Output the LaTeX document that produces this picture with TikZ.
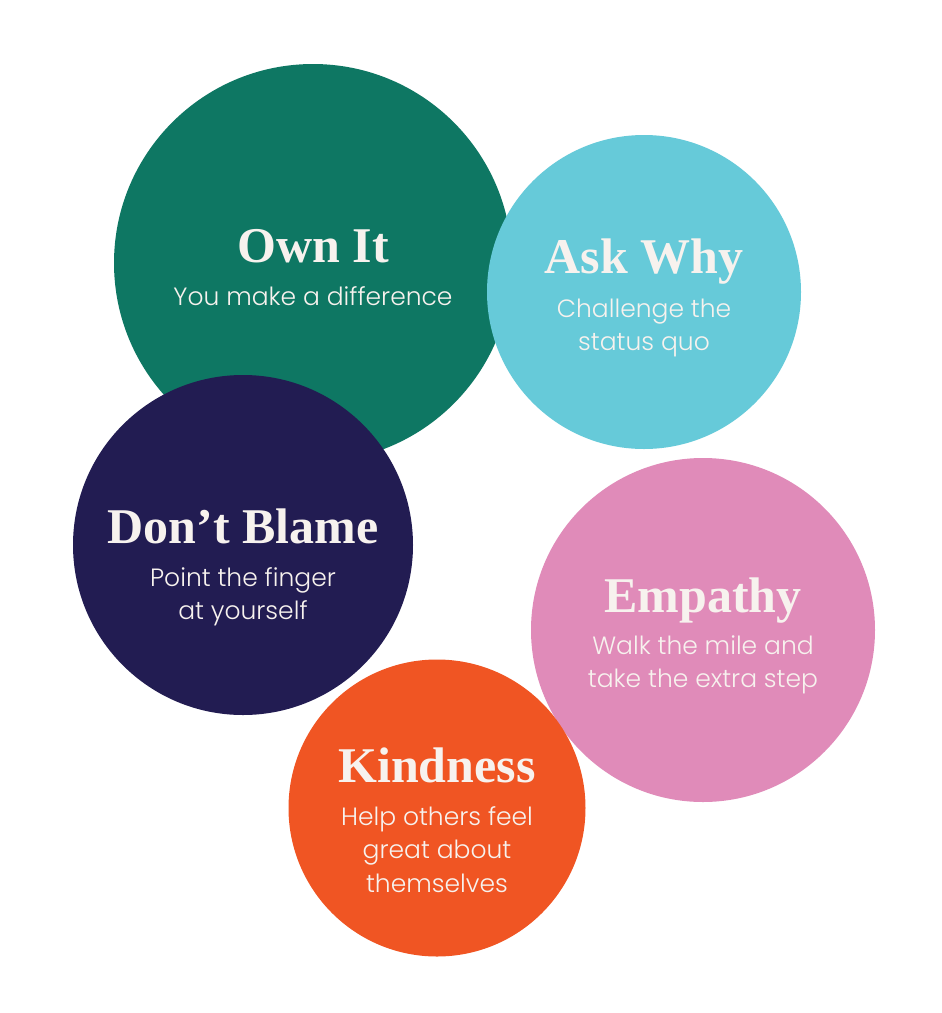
\documentclass[tikz,border=0pt]{standalone}
\usepackage{fontspec}
\usetikzlibrary{positioning}
\newfontfamily\headfont{Liberation Serif}
\IfFontExistsTF{Poppins Light}{\newfontfamily\tagfont{Poppins Light}}{\newfontfamily\tagfont{Poppins}}
\definecolor{owngreen}{HTML}{0E7763}
\definecolor{askcyan}{HTML}{66CAD9}
\definecolor{blamenavy}{HTML}{221C52}
\definecolor{empink}{HTML}{E08BB9}
\definecolor{kindorange}{HTML}{F05523}
\definecolor{cream}{HTML}{F7F2EE}
\begin{document}
\begin{tikzpicture}[x=1pt,y=-1pt,
  bubble/.style={circle,inner sep=0pt,draw=none},
  headline/.style={text=cream,inner sep=0pt,anchor=base,font=\headfont\bfseries\fontsize{50}{50}\selectfont},
  tagline/.style={text=cream,inner sep=0pt,anchor=base,align=center,font=\tagfont\fontsize{25}{33.5}\selectfont}]
  \useasboundingbox[fill=white] (0,0) rectangle (942,1013);
  % circles
  \node[bubble,fill=owngreen,minimum size=398pt] (own) at (313,263) {};
  \node[bubble,fill=askcyan,minimum size=314pt] (ask) at (644,292) {};
  \node[bubble,fill=blamenavy,minimum size=340pt] (blame) at (243,545) {};
  \node[bubble,fill=empink,minimum size=344pt] (emp) at (703,630) {};
  \node[bubble,fill=kindorange,minimum size=297pt] (kind) at (437,808) {};
  % texts (tagline base = its last line)
  \node[headline] (ownT) at ([yshift=1pt]own.center) {Own It};
  \node[tagline] (ownS) at ([yshift=-43pt]ownT.base) {You make a difference};
  \node[headline] (askT) at ([yshift=19pt]ask.center) {Ask Why};
  \node[tagline] (askS) at ([yshift=-77.5pt]askT.base) {Challenge the\\status quo};
  \node[headline] (blameT) at ([yshift=2pt]blame.center) {Don’t Blame};
  \node[tagline] (blameS) at ([yshift=-76.5pt]blameT.base) {Point the finger\\at yourself};
  \node[headline] (empT) at ([yshift=18pt]emp.center) {Empathy};
  \node[tagline] (empS) at ([yshift=-75.5pt]empT.base) {Walk the mile and\\take the extra step};
  \node[headline] (kindT) at ([yshift=26pt]kind.center) {Kindness};
  \node[tagline] (kindS) at ([yshift=-110pt]kindT.base) {Help others feel\\great about\\themselves};
\end{tikzpicture}
\end{document}
